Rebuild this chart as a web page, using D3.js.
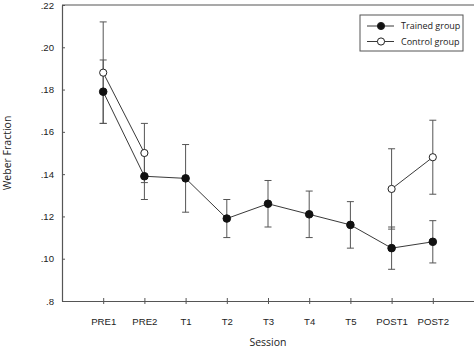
<!DOCTYPE html>
<html>
<head>
<meta charset="utf-8">
<script src="https://cdn.jsdelivr.net/npm/d3@7"></script>
<style>
  body { margin: 0; background: #fff; }
  svg { font-family: "Open Sans", sans-serif; }
</style>
</head>
<body>
<div id="chart"></div>
<script>
const sessions = ['PRE1', 'PRE2', 'T1', 'T2', 'T3', 'T4', 'T5', 'POST1', 'POST2'];

// trained group: mean and error (±)
const trainedMean = [0.179, 0.139, 0.138, 0.119, 0.126, 0.121, 0.116, 0.105, 0.108];
const trainedErr  = [0.015, 0.011, 0.016, 0.009, 0.011, 0.011, 0.011, 0.010, 0.010];

// control group only measured at pre and post sessions
const controlSessions = ['PRE1', 'PRE2', 'POST1', 'POST2'];
const controlMean = [0.188, 0.150, 0.133, 0.148];
const controlErr  = [0.024, 0.014, 0.019, 0.0175];

const yTicks = [0.08, 0.10, 0.12, 0.14, 0.16, 0.18, 0.20, 0.22];
const yTickLabels = ['.8', '.10', '.12', '.14', '.16', '.18', '.20', '.22'];

const width = 474, height = 352;
const margin = { top: 5, right: 0, bottom: 51, left: 62 };

const svg = d3.select('#chart')
    .append('svg')
    .attr('width', width)
    .attr('height', height);

const x = d3.scaleLinear()
    .domain([0, sessions.length + 1])
    .range([margin.left, width - margin.right]);
const xPos = name => x(sessions.indexOf(name) + 1);

const y = d3.scaleLinear()
    .domain([0.08, 0.22])
    .range([height - margin.bottom, margin.top]);

const axisColor = '#555';

// frame: top line
svg.append('line')
    .attr('x1', x(0)).attr('x2', width)
    .attr('y1', y(0.22)).attr('y2', y(0.22))
    .attr('stroke', axisColor).attr('stroke-width', 1.2);

// y axis
const yAxis = svg.append('g')
    .attr('transform', `translate(${x(0)},0)`)
    .call(d3.axisLeft(y)
        .tickValues(yTicks)
        .tickFormat((d, i) => yTickLabels[i])
        .tickSizeInner(4)
        .tickSizeOuter(0)
        .tickPadding(4));
yAxis.selectAll('.tick line').attr('x2', 3);

// x axis
const xAxis = svg.append('g')
    .attr('transform', `translate(0,${y(0.08)})`)
    .call(d3.axisBottom(x)
        .tickValues(d3.range(1, sessions.length + 1))
        .tickFormat(d => sessions[d - 1])
        .tickSizeInner(3)
        .tickSizeOuter(0)
        .tickPadding(14));
xAxis.selectAll('.tick line').attr('y1', -3);

svg.selectAll('.domain').attr('stroke', axisColor).attr('stroke-width', 1.2);
svg.selectAll('.tick line').attr('stroke', axisColor);
svg.selectAll('.tick text')
    .attr('fill', '#222')
    .style('font-size', '9.6px');

// axis titles
svg.append('text')
    .attr('x', 268).attr('y', 346)
    .attr('text-anchor', 'middle')
    .attr('fill', '#222')
    .style('font-size', '10.5px')
    .text('Session');

svg.append('text')
    .attr('transform', `translate(11,${153}) rotate(-90)`)
    .attr('text-anchor', 'middle')
    .attr('fill', '#222')
    .style('font-size', '10.5px')
    .text('Weber Fraction');

const trained = sessions.map((s, i) => ({ s, m: trainedMean[i], e: trainedErr[i] }));
const control = controlSessions.map((s, i) => ({ s, m: controlMean[i], e: controlErr[i] }));

function drawErrors(data) {
    const g = svg.append('g').attr('stroke', '#555').attr('stroke-width', 1);
    data.forEach(d => {
        const cx = xPos(d.s);
        g.append('line')
            .attr('x1', cx).attr('x2', cx)
            .attr('y1', y(d.m + d.e)).attr('y2', y(d.m - d.e));
        [d.m + d.e, d.m - d.e].forEach(v => {
            g.append('line')
                .attr('x1', cx - 3.5).attr('x2', cx + 3.5)
                .attr('y1', y(v)).attr('y2', y(v));
        });
    });
}

function drawLine(data, segments) {
    const line = d3.line().x(d => xPos(d.s)).y(d => y(d.m));
    segments.forEach(seg => {
        svg.append('path')
            .datum(seg.map(i => data[i]))
            .attr('d', line)
            .attr('fill', 'none')
            .attr('stroke', '#222')
            .attr('stroke-width', 0.9);
    });
}

drawErrors(trained);
drawErrors(control);

drawLine(trained, [d3.range(trained.length)]);
drawLine(control, [[0, 1], [2, 3]]);

svg.append('g').selectAll('circle')
    .data(trained)
    .join('circle')
    .attr('cx', d => xPos(d.s))
    .attr('cy', d => y(d.m))
    .attr('r', 3.8)
    .attr('fill', '#111')
    .attr('stroke', '#111');

svg.append('g').selectAll('circle')
    .data(control)
    .join('circle')
    .attr('cx', d => xPos(d.s))
    .attr('cy', d => y(d.m))
    .attr('r', 3.6)
    .attr('fill', '#fff')
    .attr('stroke', '#222')
    .attr('stroke-width', 1);

// legend
const legend = svg.append('g').attr('transform', 'translate(360,15)');
legend.append('rect')
    .attr('width', 103).attr('height', 36)
    .attr('fill', '#fff')
    .attr('stroke', '#555');

const legendItems = [
    { label: 'Trained group', fill: '#111' },
    { label: 'Control group', fill: '#fff' }
];
legendItems.forEach((it, i) => {
    const ly = 11 + i * 15.5;
    legend.append('line')
        .attr('x1', 7).attr('x2', 34)
        .attr('y1', ly).attr('y2', ly)
        .attr('stroke', '#222').attr('stroke-width', 0.9);
    legend.append('circle')
        .attr('cx', 21).attr('cy', ly).attr('r', 3.6)
        .attr('fill', it.fill).attr('stroke', '#222');
    legend.append('text')
        .attr('x', 41).attr('y', ly + 3.2)
        .attr('fill', '#222')
        .style('font-size', '9px')
        .text(it.label);
});
</script>
</body>
</html>
